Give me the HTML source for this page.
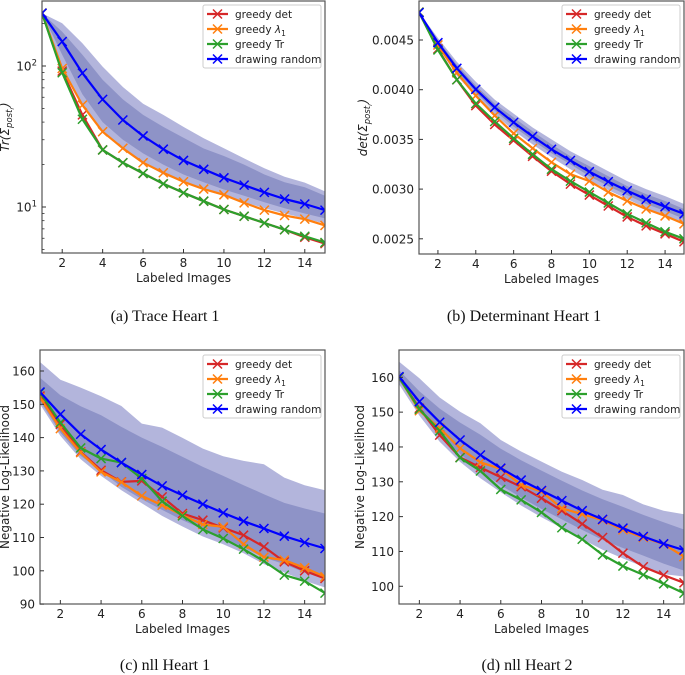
<!DOCTYPE html>
<html><head><meta charset="utf-8"><style>
html,body{margin:0;padding:0;background:#fff;}
svg{display:block;}
text{font-family:"DejaVu Sans","Liberation Sans",sans-serif;}
.cap{font-family:"Liberation Serif","DejaVu Serif",serif;font-size:16px;}
</style></head><body>
<svg id="fig" width="685" height="675" viewBox="0 0 685 675" xmlns="http://www.w3.org/2000/svg"></svg>
<script>
const xs=[1,2,3,4,5,6,7,8,9,10,11,12,13,14,15];
const seriesNames=["greedy det","greedy λ1","greedy Tr","drawing random"];
// Panel A (trace, log scale)
const aDet=[237,92,45,25.4,20.6,17.3,14.6,12.6,11,9.6,8.6,7.7,6.9,6.1,5.5];
const aLam=[237,96,52.8,34.2,26.1,20.6,17.5,15.1,13.4,12.2,10.7,9.5,8.7,8.2,7.4];
const aTr=[237,89.6,41.9,25.4,20.6,17.3,14.6,12.6,11,9.6,8.6,7.7,6.9,6.2,5.6];
const aRand=[237,149,89,58,41.4,31.9,25.7,21.4,18.5,16.1,14.3,12.7,11.4,10.5,9.5];
const aOutUp=[237,201,145,99,71,54,45,37,30.7,26.1,22.1,18.8,16.4,14.9,12.9];
const aInUp=[237,175,120,80,58,45,37,31,26,23,20,17,15,13.8,12];
const aInLo=[237,120,63,40,30,24,20,17,15,13.3,12,10.8,9.8,9,8.3];
const aOutLo=[237,100,52,34,25.5,20.5,17,15,13.2,12,10.8,9.8,9,8.3,7.6];
// Panel B (determinant)
const bDet=[0.00478,0.00441,0.00410,0.00384,0.00365,0.00349,0.00333,0.00318,0.00305,0.00294,0.00283,0.00272,0.00263,0.00255,0.00247];
const bLam=[0.00478,0.00445,0.00417,0.00394,0.00374,0.00356,0.00341,0.00327,0.00315,0.00308,0.00297,0.00288,0.00280,0.00273,0.00265];
const bTr=[0.00478,0.00440,0.00410,0.00386,0.00368,0.00351,0.00335,0.00320,0.00308,0.00297,0.00286,0.00275,0.00266,0.00257,0.00250];
const bRand=[0.004775,0.004473,0.004215,0.004004,0.003823,0.003671,0.003530,0.003400,0.003288,0.003175,0.003075,0.002984,0.002897,0.002823,0.002750];
const bOutUp=[0.00478,0.00452,0.00428,0.00408,0.00390,0.00376,0.00362,0.00350,0.00338,0.00328,0.00318,0.00308,0.00300,0.00293,0.00285];
const bInUp=[0.00478,0.00450,0.00425,0.00404,0.00386,0.00372,0.00358,0.00345,0.00333,0.00323,0.00313,0.00303,0.00295,0.00288,0.00280];
const bInLo=[0.00478,0.00445,0.00418,0.00397,0.00379,0.00363,0.00349,0.00336,0.00325,0.00313,0.00303,0.00294,0.00285,0.00278,0.00270];
const bOutLo=[0.00478,0.00443,0.00414,0.00393,0.00375,0.00359,0.00345,0.00332,0.00320,0.00309,0.00299,0.00290,0.00281,0.00273,0.00265];
// Panel C (nll heart 1)
const cDet=[152.5,144,135.7,130.2,126.7,127,122.2,117.2,115.2,112.9,110.7,107.2,102.7,100,97.7];
const cLam=[152,142.7,135.5,129.7,126.6,122.5,119.7,116.7,113.9,113.2,108,104.1,103.2,100.9,98.2];
const cTr=[153.5,144.5,136.9,133.7,132.5,127.7,120.9,116.5,112.4,109.7,106.5,102.9,98.7,96.9,93.3];
const cRand=[153.7,147,141,136.4,132.5,128.9,125.5,122.7,120,117.4,114.9,112.7,110.4,108.5,106.7];
const cOutUp=[162.7,157.4,155,152.4,149.5,144.2,143,139.9,136.7,134.4,133,132,128,125.7,124.2];
const cInUp=[158,152.7,149.4,146.7,143.2,140,137.2,134.2,131.2,128.5,125.7,123,120.4,118.7,117.2];
const cInLo=[151,141.5,134.5,130,125.2,121.5,118.3,115.2,112.5,110,107,104,102,99.5,97.5];
const cOutLo=[150,140.5,133.5,128.5,124.2,120.3,116.5,113.3,110.3,108,105.3,102,99.5,97,95];
// Panel D (nll heart 2)
const dDet=[160,151.1,143.4,137,134.1,131.3,128.6,125.3,121.7,117.9,114,109.5,105.6,103.2,101];
const dLam=[160,150.4,145.4,139.6,135.6,133.7,129.1,127.2,122.4,120.7,119,116.2,114,112.1,108.5];
const dTr=[160,150.8,144.6,136.9,133.1,127.8,124.8,121.2,116.8,113.5,109,105.8,103.3,100.7,98];
const dRand=[160.2,153,147.1,142,137.7,133.9,130.5,127.5,124.6,121.7,119.2,116.7,114.3,112.2,110.4];
const dOutUp=[164.5,159.7,154.2,150.1,146.8,142,138.7,135.8,132.9,130.5,127.7,126.2,123.5,121.7,120.7];
const dInUp=[162,156,151,147,143.5,139.5,136.2,133.2,130.3,127.5,125,122.8,120.5,118.4,116.3];
const dInLo=[159,151,143.5,138,133,129,125.5,122.2,119.2,116.2,113.3,111,108.8,106.5,104.5];
const dOutLo=[158,149,141.5,135.7,131,127,123.2,119.8,116.7,113.5,110.5,108,105.6,103.5,102.8];
const xTicks=[2,4,6,8,10,12,14];
const bTicks=[0.0045,0.0040,0.0035,0.0030,0.0025];
const cTicks=[90,100,110,120,130,140,150,160];
const dTicks=[100,110,120,130,140,150,160];

const NS="http://www.w3.org/2000/svg";
const fig=document.getElementById('fig');
const COLORS=["#d62728","#ff7f0e","#2ca02c","#0000ff"];
const FS=12;
function mk(tag,attrs,parent){const e=document.createElementNS(NS,tag);for(const k in attrs)e.setAttribute(k,attrs[k]);parent.appendChild(e);return e;}

function panel(id,cfg){
  const g=mk('g',{},fig);
  
  
  const X=i=>cfg.x0+(i-1)/14*(cfg.x1-cfg.x0);
  const Y=cfg.y;
  const cp=mk('clipPath',{id:'clip-'+id},g);
  mk('rect',{x:cfg.x0,y:cfg.y0,width:cfg.x1-cfg.x0,height:cfg.y1-cfg.y0},cp);
  const pa=mk('g',{'clip-path':'url(#clip-'+id+')'},g);
  function band(up,lo,col,name){
    let d='';xs.forEach((x,i)=>{d+=(i?'L':'M')+X(x).toFixed(1)+','+Y(up[i]).toFixed(1);});
    for(let i=xs.length-1;i>=0;i--)d+='L'+X(xs[i]).toFixed(1)+','+Y(lo[i]).toFixed(1);
    const p=mk('path',{d:d+'Z',fill:col},pa);
    
    
  }
  band(cfg.bands[0],cfg.bands[3],'#b3b5dc','random-outer-band');
  band(cfg.bands[1],cfg.bands[2],'#8e93c7','random-inner-band');
  cfg.series.forEach((s,k)=>{
    const sg=mk('g',{},pa);
    
    
    let d='';xs.forEach((x,i)=>{d+=(i?'L':'M')+X(x).toFixed(1)+','+Y(s[i]).toFixed(1);});
    mk('path',{d:d,fill:'none',stroke:COLORS[k],'stroke-width':2.2,'stroke-linejoin':'round'},sg);
    xs.forEach((x,i)=>{const cx=X(x),cy=Y(s[i]),r=4.5;
      const m=mk('path',{d:`M${cx-r},${cy-r}L${cx+r},${cy+r}M${cx-r},${cy+r}L${cx+r},${cy-r}`,stroke:COLORS[k],'stroke-width':1.5},sg);
      
      
    });
  });
  const fr=mk('rect',{x:cfg.x0,y:cfg.y0,width:cfg.x1-cfg.x0,height:cfg.y1-cfg.y0,fill:'none',stroke:'#555','stroke-width':1.2},g);
  
  
  const xa=mk('g',{},g);
  
  
  xTicks.forEach(t=>{const x=X(t);
    mk('line',{x1:x,x2:x,y1:cfg.y1,y2:cfg.y1-4,stroke:'#333','stroke-width':1},xa);
    const tx=mk('text',{x:x,y:cfg.y1+14,'text-anchor':'middle','font-size':FS,fill:'#222'},xa);tx.textContent=t;
    
    
  });
  const xl=mk('text',{x:(cfg.x0+cfg.x1)/2,y:cfg.y1+29,'text-anchor':'middle','font-size':FS,fill:'#222'},g);
  xl.textContent='Labeled Images';
  
  
  const ya=mk('g',{},g);
  
  
  cfg.yticks.forEach(t=>{const y=Y(t);
    mk('line',{x1:cfg.x0,x2:cfg.x0+4,y1:y,y2:y,stroke:'#333','stroke-width':1},ya);
    const tx=mk('text',{x:cfg.x0-5,y:y+4.5,'text-anchor':'end','font-size':FS,fill:'#222'},ya);
    if(cfg.log){tx.textContent='10';const ts=mk('tspan',{dy:-5,'font-size':8.5},tx);ts.textContent=Math.round(Math.log10(t));}
    else tx.textContent=cfg.fmt(t);
    
    
  });
  (cfg.minor||[]).forEach(t=>{const y=Y(t);if(y>cfg.y0&&y<cfg.y1)mk('line',{x1:cfg.x0,x2:cfg.x0+2.5,y1:y,y2:y,stroke:'#333','stroke-width':0.8},ya);});
  const yl=mk('text',{x:0,y:0,transform:`translate(${cfg.ylx},${(cfg.y0+cfg.y1)/2}) rotate(-90)`,'text-anchor':'middle','font-size':FS,fill:'#222','font-style':cfg.yit?'italic':'normal'},g);
  if(cfg.ysub){yl.textContent=cfg.ytitle+'(Σ';const s=mk('tspan',{dy:3,'font-size':8.5},yl);s.textContent='post';const s2=mk('tspan',{dy:2,'font-size':6},yl);s2.textContent='r';const s3=mk('tspan',{dy:-5},yl);s3.textContent=')';}
  else yl.textContent=cfg.ytitle;
  
  
  const lg=mk('g',{},g);
  
  
  const lx=cfg.lx,ly=cfg.ly;
  mk('rect',{x:lx,y:ly,width:118,height:63,fill:'#fff',stroke:'#ccc','stroke-width':1,rx:2},lg);
  seriesNames.forEach((n,k)=>{const yy=ly+9+k*15;
    const e=mk('g',{},lg);
    
    
    mk('line',{x1:lx+4,x2:lx+25,y1:yy,y2:yy,stroke:COLORS[k],'stroke-width':2.2},e);
    mk('path',{d:`M${lx+10},${yy-4.5}L${lx+19},${yy+4.5}M${lx+10},${yy+4.5}L${lx+19},${yy-4.5}`,stroke:COLORS[k],'stroke-width':1.5},e);
    const t=mk('text',{x:lx+32,y:yy+4,'font-size':10.5,fill:'#222'},e);
    if(k===1){t.textContent='greedy ';const a=mk('tspan',{'font-style':'italic'},t);a.textContent='λ';const b=mk('tspan',{dy:3,'font-size':7.5},t);b.textContent='1';}
    else t.textContent=n;
  });
  const c=mk('text',{x:cfg.capx,y:cfg.capy,'text-anchor':'middle',class:'cap',fill:'#111'},fig);
  c.textContent=cfg.caption;
  
  
}
const logMinor=[];[5,6,7,8,9,20,30,40,50,60,70,80,90,200].forEach(v=>logMinor.push(v));
panel('trace-heart-1',{x0:42,x1:325,y0:1,y1:253,y:v=>66-(Math.log10(v)-2)*141,log:true,yticks:[10,100],minor:logMinor,
  series:[aDet,aLam,aTr,aRand],bands:[aOutUp,aInUp,aInLo,aOutLo],ytitle:'Tr',yit:true,ysub:true,ylx:9,lx:203,ly:5,capx:165,capy:321,caption:'(a) Trace Heart 1'});
panel('determinant-heart-1',{x0:419,x1:684,y0:1,y1:254,y:v=>40+(0.0045-v)/0.0005*49.7,yticks:bTicks,fmt:t=>t.toFixed(4),
  series:[bDet,bLam,bTr,bRand],bands:[bOutUp,bInUp,bInLo,bOutLo],ytitle:'det',yit:true,ysub:true,ylx:367,lx:562,ly:5,capx:524,capy:321,caption:'(b) Determinant Heart 1'});
panel('nll-heart-1',{x0:40,x1:325,y0:350,y1:604,y:v=>371+(160-v)*3.33,yticks:cTicks,fmt:t=>t,
  series:[cDet,cLam,cTr,cRand],bands:[cOutUp,cInUp,cInLo,cOutLo],ytitle:'Negative Log-Likelihood',ylx:9,lx:203,ly:355,capx:165,capy:670,caption:'(c) nll Heart 1'});
panel('nll-heart-2',{x0:399,x1:684,y0:350,y1:604,y:v=>377.3+(160-v)*3.483,yticks:dTicks,fmt:t=>t,
  series:[dDet,dLam,dTr,dRand],bands:[dOutUp,dInUp,dInLo,dOutLo],ytitle:'Negative Log-Likelihood',ylx:364,lx:562,ly:355,capx:527,capy:670,caption:'(d) nll Heart 2'});
</script>
</body></html>
